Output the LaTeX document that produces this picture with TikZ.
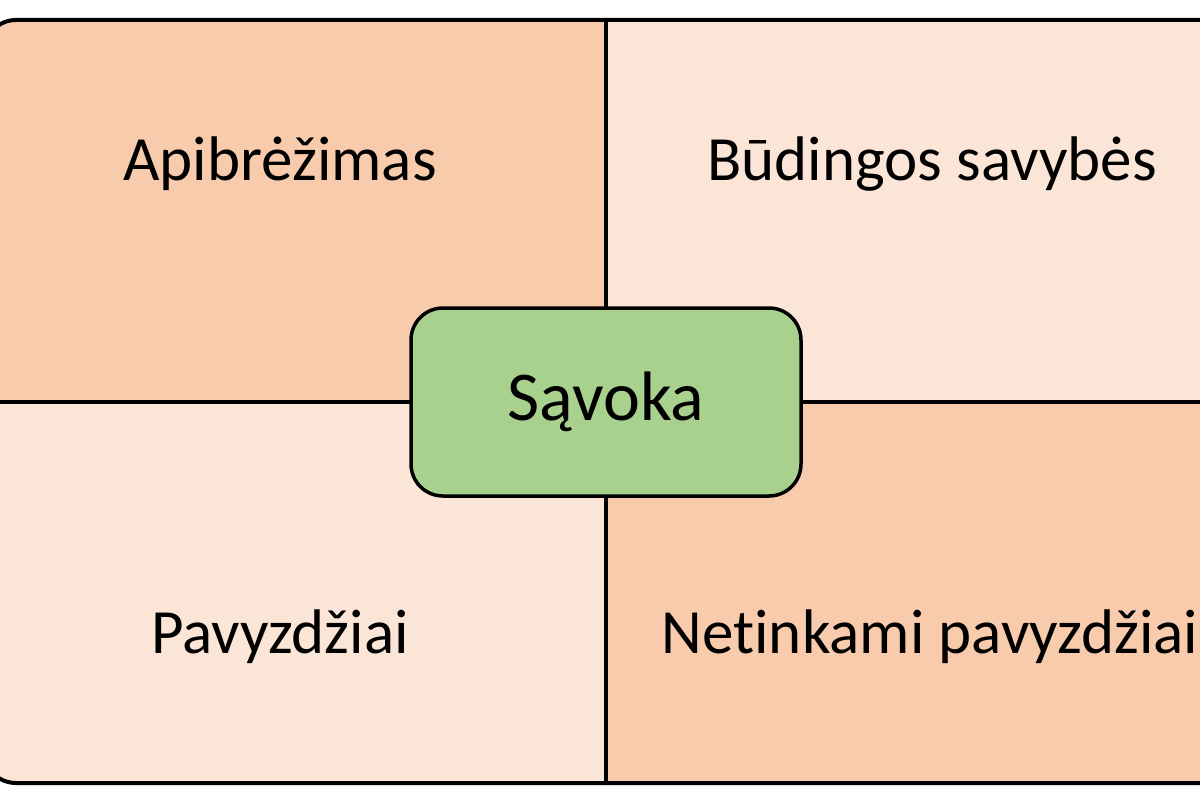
\documentclass[tikz,border=0pt]{standalone}
\usepackage{fontspec}
\setmainfont[Ligatures=NoCommon]{Carlito}
\usepackage{tikz}
\definecolor{peachdark}{HTML}{F8CBAD}
\definecolor{peachlight}{HTML}{FBE5D6}
\definecolor{conceptgreen}{HTML}{A9D18E}
\tikzset{
  label/.style={anchor=base,font=\fontsize{63}{70}\selectfont},
  concept/.style={draw,line width=3.5pt,fill=conceptgreen,rounded corners=32pt,
    minimum width=390pt,minimum height=188pt,font=\fontsize{70}{76}\selectfont}
}
\begin{document}
\begin{tikzpicture}[x=1pt,y=-1pt]
\useasboundingbox (0,0) rectangle (1200,800);
\begin{scope}
\clip[rounded corners=32pt] (-16,20) rectangle (1240,783);
\fill[peachdark]  (-16,20) rectangle (606,402);
\fill[peachlight] (606,20) rectangle (1240,402);
\fill[peachlight] (-16,402) rectangle (606,783);
\fill[peachdark]  (606,402) rectangle (1240,783);
\end{scope}
\draw[line width=4pt,rounded corners=32pt] (-16,20) rectangle (1240,783);
\draw[line width=3.5pt] (606,20) -- (606,783);
\draw[line width=3.5pt] (-16,402) -- (1240,402);
\node[label] (def) at (280,180) {Apibrėžimas};
\node[label] (prop) at (932,180) {Būdingos savybės};
\node[label] (ex) at (280,653) {Pavyzdžiai};
\node[label] (nonex) at (930,653) {Netinkami pavyzdžiai};
\node[concept] (savoka) at (606,402) {Sąvoka};
\end{tikzpicture}
\end{document}
